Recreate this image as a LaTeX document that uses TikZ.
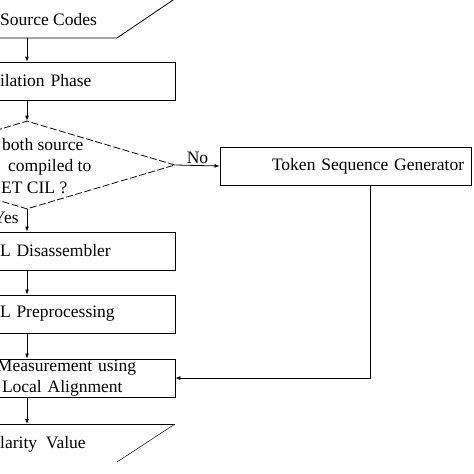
\documentclass[tikz,border=0pt]{standalone}
\usepackage{fontspec}
\setmainfont{Liberation Serif}
\usetikzlibrary{positioning, arrows.meta, shapes.geometric}

\begin{document}
\begin{tikzpicture}[
    x=1pt, y=-1pt,
    every node/.style={font=\fontsize{17.5}{21.5}\selectfont},
    box/.style={
        draw,
        line width=0.8pt,
        align=left,
        text width=165pt,
        inner xsep=10pt,
        inner ysep=0pt,
        minimum height=38pt
    },
    decision/.style={draw, diamond, dash pattern=on 7pt off 2.5pt, line width=0.8pt,
        minimum width=296pt, minimum height=88pt, inner sep=0pt},
    txt/.style={anchor=west, inner sep=0pt, align=left},
    arrow/.style={-{Latex[length=5pt,width=4pt]}, line width=0.8pt},
    lbl/.style={inner sep=1pt}
]

\useasboundingbox (0,0) rectangle (474,474);
\clip (0,0) rectangle (474,474);

% input and output
\draw[line width=0.8pt] (-10,38) -- (117,38) -- (176,-2);
\node[txt] (src) at (0,20) {Source Codes};
\coordinate (srcbot) at (27,38);

\draw[line width=0.8pt] (-10,424) -- (175,424);
\draw[line width=0.5pt] (175,424) -- (117,462);
\node[txt] (sim) at (0,444) {larity\ \ Value};
\coordinate (simtop) at (27,424);

% steps
\node[box] (comp) at (82.5,81) {ilation Phase};
\node[decision] (chk) at (27,165) {};
\node[txt] (chktxt) at (1,166) {\hspace*{1pt}both source\\\hspace*{7pt}compiled to\\ET CIL ?};
\node[box, text width=251pt, inner xsep=0pt] (tsg) at (345.5,166) {\hspace*{52pt}Token Sequence Generator};
\node[box] (dis) at (82.5,251) {L Disassembler};
\node[box] (pre) at (82.5,314) {L Preprocessing};
\node[box] (meas) at (82.5,378) {\hspace*{-3pt}Measurement using\\\hspace*{2pt}Local Alignment};
\coordinate (turn) at (370,378);

\draw[arrow] (srcbot) -- (srcbot |- comp.north);
\draw[arrow] (comp.south -| chk) -- (chk.north);
\draw[arrow] (chk.east) -- node[lbl, above]{No} (tsg.west);
\draw[arrow] (chk.south) -- node[lbl, pos=0.4, left=7pt]{Yes} (chk.south |- dis.north);
\draw[arrow] (dis.south -| chk) -- (pre.north -| chk);
\draw[arrow] (pre.south -| chk) -- (meas.north -| chk);
\draw[arrow] (meas.south -| chk) -- (simtop);
\draw[arrow] (tsg.south -| turn) -- (turn) -- (meas.east);

\end{tikzpicture}
\end{document}
